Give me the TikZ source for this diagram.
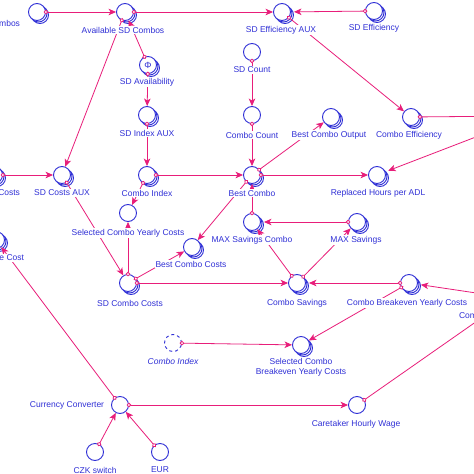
\documentclass[tikz,border=0pt]{standalone}
\usepackage{fontspec}
\setmainfont{Liberation Sans}
\usetikzlibrary{arrows.meta,shadows}
\definecolor{sdblue}{RGB}{48,48,214}
\definecolor{sdpink}{RGB}{232,30,122}

\begin{document}
\begin{tikzpicture}[x=1pt,y=-1pt,
  conv/.style={circle,draw=sdblue,line width=0.9pt,fill=white,minimum size=17pt,inner sep=0pt},
  arr/.style={conv,
    copy shadow={shadow xshift=3pt,shadow yshift=-3pt,draw=sdblue,fill=white,line width=0.9pt},
    copy shadow={shadow xshift=1.5pt,shadow yshift=-1.5pt,draw=sdblue,fill=white,line width=0.9pt}},
  ghost/.style={conv,dashed},
  lbl/.style={text=sdblue,fill=white,inner sep=0.8pt,font=\fontsize{8.5}{10}\selectfont},
  link/.style={draw=sdpink,line width=0.8pt,
    {Circle[fill=white,length=4.5pt]}-{Stealth[length=7.5pt,width=6.5pt,inset=2pt]},
    shorten <=-2.25pt},
  far/.style={shorten >=3pt}]

\useasboundingbox (0,0) rectangle (474,474);
\clip (0,0) rectangle (474,474);
\fill [white] (0,0) rectangle (474,474);

\node [arr] (combos) at (37,12) {};
\node [arr] (avail) at (125,12) {};
\node [arr] (effaux) at (282,12) {};
\node [arr] (eff) at (374,11) {};
\node [arr,text=sdblue,font=\fontsize{9}{9}\selectfont] (avl) at (148,65) {Φ};
\node [arr] (idxaux) at (147,115) {};
\node [conv] (sdcount) at (252,52) {};
\node [conv] (ccount) at (252,115) {};
\node [arr] (bestout) at (331,117) {};
\node [arr] (ceff) at (411,117) {};
\node [arr] (sdcosts) at (-6,175) {};
\node [arr] (costaux) at (62,175) {};
\node [arr] (cidx) at (147,175) {};
\node [arr] (best) at (252,175) {};
\node [arr] (rhours) at (377,175) {};
\node [conv] (selyc) at (128,213) {};
\node [arr] (maxsc) at (252,222) {};
\node [arr] (maxs) at (357,222) {};
\node [arr] (bcosts) at (192,247) {};
\node [arr] (carecost) at (-4,240) {};
\node [arr] (sdcc) at (128,283) {};
\node [arr] (csav) at (297,283) {};
\node [arr] (cbyc) at (409,283) {};
\node [arr] (payback) at (510,298) {};
\node [arr] (selbe) at (301,345) {};
\node [ghost] (cidxg) at (173,343) {};
\node [conv] (curr) at (120,405) {};
\node [conv] (wage) at (357,405) {};
\node [conv] (czk) at (95,452) {};
\node [conv] (eur) at (160,452) {};
\coordinate (effout) at (520,116);
\coordinate (hrsin) at (520,120);

\foreach \a/\b in {combos/avail, avail/effaux, avl/avail, avail/costaux, avl/idxaux,
  idxaux/cidx, sdcount/ccount, ccount/best, cidx/best, cidx/selyc, sdcosts/costaux,
  costaux/sdcc, sdcc/selyc, sdcc/bcosts, sdcc/csav, best/bestout, best/rhours,
  best/bcosts, maxsc/best, csav/maxsc, csav/maxs, cbyc/selbe, wage/payback,
  cidxg/selbe, curr/wage, czk/curr, eur/curr, curr/carecost, effaux/ceff, ceff/effout}
  \draw [link] (\a) -- (\b);
\foreach \a/\b in {eff/effaux, maxs/maxsc, cbyc/csav, payback/cbyc, hrsin/rhours}
  \draw [link,far] (\a) -- (\b);

\node [lbl,anchor=east] (combos-l) at (21,23) {SD Combos};
\node [lbl] (avail-l) at (123,30) {Available SD Combos};
\node [lbl] (effaux-l) at (281,30) {SD Efficiency AUX};
\node [lbl] (eff-l) at (374,28) {SD Efficiency};
\node [lbl] (avl-l) at (147,82) {SD Availability};
\node [lbl] (idxaux-l) at (147,133) {SD Index AUX};
\node [lbl] (sdcount-l) at (252,70) {SD Count};
\node [lbl] (ccount-l) at (252,135) {Combo Count};
\node [lbl] (bestout-l) at (329,135) {Best Combo Output};
\node [lbl] (ceff-l) at (409,135) {Combo Efficiency};
\node [lbl,anchor=east] (sdcosts-l) at (21,193) {SD Costs};
\node [lbl] (costaux-l) at (62,193) {SD Costs AUX};
\node [lbl] (cidx-l) at (147,193) {Combo Index};
\node [lbl] (best-l) at (252,193) {Best Combo};
\node [lbl] (rhours-l) at (378,193) {Replaced Hours per ADL};
\node [lbl] (selyc-l) at (128,233) {Selected Combo Yearly Costs};
\node [lbl] (maxsc-l) at (252,240) {MAX Savings Combo};
\node [lbl] (maxs-l) at (356,240) {MAX Savings};
\node [lbl] (bcosts-l) at (191,264) {Best Combo Costs};
\node [lbl,anchor=east] (carecost-l) at (25,258) {Care Cost};
\node [lbl] (sdcc-l) at (130,303) {SD Combo Costs};
\node [lbl] (csav-l) at (297,303) {Combo Savings};
\node [lbl] (cbyc-l) at (407,303) {Combo Breakeven Yearly Costs};
\node [lbl,anchor=west] (payback-l) at (458,316) {Combo Payback};
\node [lbl,align=center] (selbe-l) at (301,367) {Selected Combo\\Breakeven Yearly Costs};
\node [lbl,font=\fontsize{8.5}{10}\selectfont\itshape] (cidxg-l) at (173,361) {Combo Index};
\node [lbl] (curr-l) at (67,405) {Currency Converter};
\node [lbl] (wage-l) at (356,424) {Caretaker Hourly Wage};
\node [lbl] (czk-l) at (95,470) {CZK switch};
\node [lbl] (eur-l) at (160,470) {EUR};

\end{tikzpicture}
\end{document}
